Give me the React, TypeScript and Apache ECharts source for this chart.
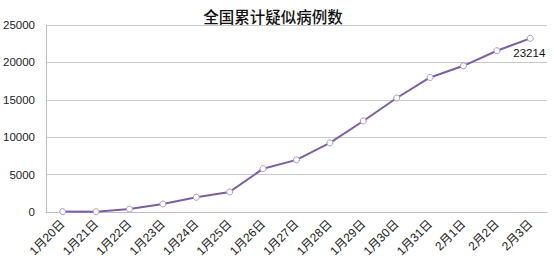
import React, { useEffect, useRef } from "react";
import * as echarts from "echarts";

const categories = ["1月20日","1月21日","1月22日","1月23日","1月24日","1月25日","1月26日","1月27日","1月28日","1月29日","1月30日","1月31日","2月1日","2月2日","2月3日"];
const suspected = [54, 37, 393, 1072, 1965, 2684, 5794, 6973, 9239, 12167, 15238, 17988, 19544, 21558, 23214];
const yTicks = { min: 0, max: 25000, interval: 5000 };
const titleText = "全国累计疑似病例数";

const NUM_FONT = "'Liberation Sans', Arial, sans-serif";
const CAT_FONT = "'Liberation Sans', 'Noto Sans CJK SC', sans-serif";

export default function App() {
  const ref = useRef<HTMLDivElement>(null);
  useEffect(() => {
    if (!ref.current) return;
    const chart = echarts.init(ref.current, undefined, { renderer: "svg" });
    const last = suspected.length - 1;
    chart.setOption({
      animation: false,
      backgroundColor: "#ffffff",
      title: {
        text: titleText,
        left: 268,
        textAlign: "center",
        top: 3,
        textStyle: { fontFamily: "Noto Sans CJK SC", fontSize: 15.5, fontWeight: 500, color: "#111" },
      },
      grid: { left: 45, right: 7, top: 25, bottom: 50, containLabel: false },
      xAxis: {
        type: "category",
        data: categories,
        boundaryGap: true,
        axisLine: { show: true, lineStyle: { color: "#bfbfbf", width: 1 } },
        axisTick: { show: false },
        axisLabel: {
          rotate: 45,
          interval: 0,
          margin: 10,
          fontSize: 12,
          color: "#222",
          fontFamily: CAT_FONT,
        },
        splitLine: { show: false },
      },
      yAxis: {
        type: "value",
        min: yTicks.min,
        max: yTicks.max,
        interval: yTicks.interval,
        axisLine: { show: true, lineStyle: { color: "#bfbfbf", width: 1 } },
        axisTick: { show: false },
        axisLabel: {
          fontSize: 11.5,
          color: "#222",
          margin: 11,
          fontFamily: NUM_FONT,
          formatter: (v: number) => String(v),
        },
        splitLine: { show: true, lineStyle: { color: "#c8c8c8", width: 1 } },
      },
      series: [
        {
          type: "line",
          data: suspected.map((v, i) =>
            i === last
              ? {
                  value: v,
                  label: {
                    show: true,
                    position: "bottom",
                    distance: 5,
                    fontSize: 11.5,
                    color: "#111",
                    fontFamily: NUM_FONT,
                    offset: [-1, 0],
                  },
                }
              : v
          ),
          symbol: "circle",
          symbolSize: 6,
          lineStyle: { color: "#7b5ea7", width: 2 },
          itemStyle: { color: "#ffffff", borderColor: "#a897c9", borderWidth: 1 },
          z: 3,
        },
      ],
    });
    return () => chart.dispose();
  }, []);
  return (
    <div
      ref={ref}
      style={{ position: "absolute", left: 0, top: 0, width: 554, height: 262 }}
    />
  );
}
